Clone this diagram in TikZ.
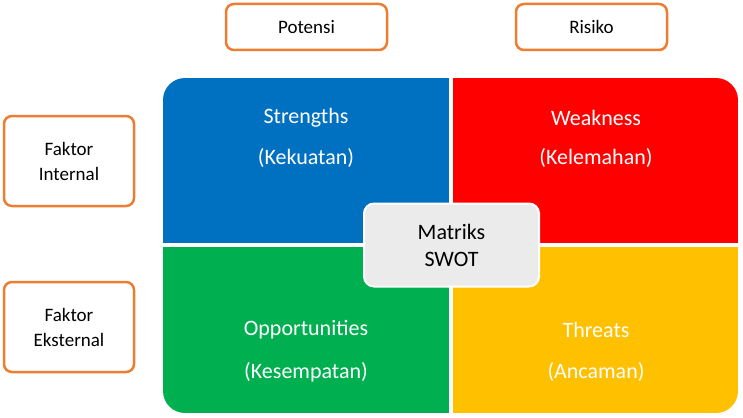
\documentclass[tikz,border=0pt]{standalone}
\usepackage{fontspec}
\setmainfont{Carlito}
\definecolor{qblue}{RGB}{0,112,192}
\definecolor{qred}{RGB}{255,0,0}
\definecolor{qgreen}{RGB}{0,176,80}
\definecolor{qgold}{RGB}{255,192,0}
\definecolor{obord}{RGB}{237,125,49}
\definecolor{cgrey}{RGB}{235,235,235}
\begin{document}
\begin{tikzpicture}[x=1pt,y=-1pt,
  lab/.style={draw=obord,line width=2.5pt,rounded corners=8pt,fill=white,align=center,font=\fontsize{19}{25}\selectfont,inner sep=0pt},
  qtxt/.style={text=white,font=\fontsize{22}{26}\selectfont,align=center}]
\useasboundingbox (0,0) rectangle (743,417);
\begin{scope}
\clip[rounded corners=22pt] (163,78) rectangle (738,413);
\fill[qblue] (163,78) rectangle (451,245);
\fill[qred] (451,78) rectangle (738,245);
\fill[qgreen] (163,245) rectangle (451,413);
\fill[qgold] (451,245) rectangle (738,413);
\end{scope}
\draw[white,line width=4pt] (451,70) -- (451,420);
\draw[white,line width=4pt] (155,245) -- (745,245);
\node[qtxt] (s) at (306,118) {Strengths};
\node[qtxt] (s2) at (306,158) {(Kekuatan)};
\node[qtxt] (w) at (596,118) {Weakness};
\node[qtxt] (w2) at (596,158) {(Kelemahan)};
\node[qtxt] (o) at (306,330) {Opportunities};
\node[qtxt] (o2) at (306,372) {(Kesempatan)};
\node[qtxt] (t) at (596,330) {Threats};
\node[qtxt] (t2) at (596,372) {(Ancaman)};
\node[draw=white,line width=2pt,fill=cgrey,rounded corners=10pt,minimum width=175pt,minimum height=83pt,align=center,font=\fontsize{22}{27}\selectfont] (m) at (451.5,245) {Matriks\\SWOT};
\node[lab,minimum width=161pt,minimum height=46pt] (p) at (306.5,27) {Potensi};
\node[lab,minimum width=151pt,minimum height=46pt] (r) at (591.5,27) {Risiko};
\node[lab,minimum width=130pt,minimum height=90pt] (fi) at (69,161) {Faktor\\Internal};
\node[lab,minimum width=130pt,minimum height=90pt] (fe) at (69,327) {Faktor\\Eksternal};
\end{tikzpicture}
\end{document}
